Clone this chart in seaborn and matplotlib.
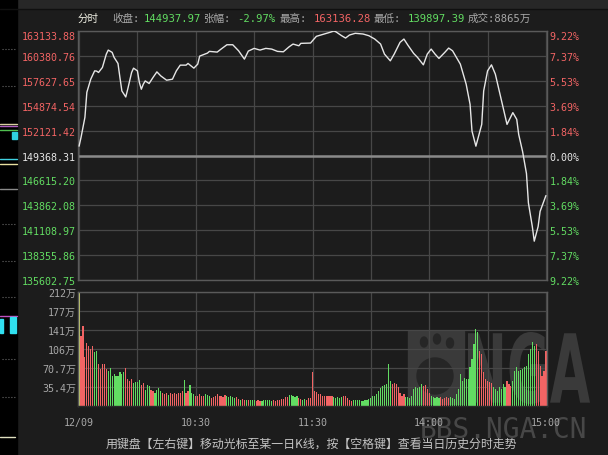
import matplotlib
matplotlib.use("Agg")
import matplotlib.pyplot as plt
import seaborn as sns
import pandas as pd
from matplotlib.lines import Line2D
from matplotlib.patches import Rectangle, Ellipse, PathPatch
from matplotlib.textpath import TextPath
from matplotlib.font_manager import FontProperties
from matplotlib.transforms import Affine2D

# minute index since 09:30 (lunch break removed, 240 = 15:00) and index value
price_min = [0, 1, 3, 4, 6, 8, 9, 10, 12, 14,
             15, 17, 18, 20, 21, 22, 24, 25, 27, 28,
             30, 31, 32, 33, 34, 36, 38, 40, 42, 45,
             48, 50, 52, 55, 56, 59, 61, 62, 66, 67,
             71, 73, 76, 79, 82, 85, 87, 90, 93, 96,
             99, 102, 105, 108, 110, 113, 114, 119, 120, 122,
             126, 129, 131, 132, 135, 137, 139, 142, 146, 149,
             152, 155, 157, 160, 162, 165, 167, 169, 172, 174,
             177, 179, 181, 183, 185, 188, 190, 192, 196, 199,
             201, 202, 204, 207, 208, 210, 212, 214, 216, 218,
             220, 223, 225, 226, 228, 230, 231, 233, 234, 236,
             237, 240]
price = [150400, 151366, 153586, 156362, 157805, 158726, 158700, 158549, 159104, 160580,
         161024, 160769, 160214, 159548, 157994, 156506, 155840, 156695, 158549, 159026,
         158726, 157438, 156695, 157250, 157616, 157328, 157994, 158615, 158171, 157694,
         157805, 158726, 159359, 159359, 159548, 159026, 159470, 160358, 160691, 160880,
         160802, 161135, 161613, 161613, 160947, 160025, 160913, 161213, 161024, 161213,
         161135, 160880, 160835, 161390, 161690, 161501, 161768, 161801, 162056, 162545,
         162800, 162989, 163136, 163050, 162612, 162356, 162689, 162878, 162800, 162612,
         162245, 161690, 160580, 159836, 160580, 161879, 162245, 161579, 160658, 160214,
         159392, 160580, 161135, 160580, 160103, 160769, 161246, 160946, 159470, 157250,
         155030, 152066, 150400, 152809, 156506, 158726, 159392, 158360, 156506, 154663,
         152809, 154108, 153364, 151699, 149812, 147370, 144117, 141520, 139897, 141520,
         143185, 144938]
prev_close = 149368.31

# volume per minute (万), one bar per minute 0..240
vol = [212, 131, 148, 91, 117, 112, 106, 112, 100, 103,
       78, 69, 78, 78, 69, 65, 70, 56, 60, 56,
       56, 63, 60, 63, 71, 50, 47, 50, 43, 44,
       45, 48, 40, 43, 30, 39, 38, 30, 27, 25,
       30, 33, 28, 25, 22, 25, 21, 25, 22, 25,
       23, 25, 25, 28, 48, 25, 28, 39, 25, 22,
       19, 19, 22, 19, 19, 23, 21, 18, 14, 16,
       19, 22, 19, 19, 16, 20, 19, 17, 19, 16,
       15, 17, 13, 12, 13, 12, 12, 11, 12, 12,
       11, 10, 11, 10, 10, 12, 12, 11, 11, 10,
       11, 10, 11, 12, 13, 13, 16, 16, 21, 21,
       19, 16, 19, 15, 13, 12, 13, 12, 14, 15,
       63, 28, 26, 23, 22, 19, 19, 18, 18, 19,
       18, 16, 15, 16, 15, 16, 18, 19, 14, 12,
       10, 11, 12, 12, 11, 10, 10, 11, 11, 13,
       15, 18, 19, 23, 28, 33, 38, 40, 41, 78,
       47, 41, 42, 41, 35, 25, 19, 23, 16, 16,
       15, 19, 32, 36, 33, 35, 41, 38, 40, 32,
       25, 19, 16, 15, 16, 15, 16, 13, 14, 16,
       14, 16, 14, 13, 23, 32, 60, 47, 53, 50,
       50, 72, 88, 115, 143, 137, 103, 97, 63, 50,
       47, 44, 42, 35, 31, 28, 35, 32, 41, 35,
       47, 41, 38, 47, 66, 72, 66, 67, 69, 72,
       75, 97, 106, 120, 112, 115, 103, 75, 56, 66,
       103]
# u = price up that minute, d = down, n = opening auction
vol_dir = ("n" + "uuuuuuu" + "dd" + "uuuuu" + "ddddddddd" + "uuuu" + "dddd" + "uu"
           + "ddd" + "uu" + "dddd" + "uuu" + "d" + "uuuuuuu" + "d" + "uu" + "ddd"
           + "uuuuu" + "ddd" + "uuuuuuuu" + "ddddd" + "uu" + "d" + "uu" + "d" + "u"
           + "ddd" + "uuu" + "dddddd" + "uuuuuuuu" + "ddddd" + "uu" + "dd"
           + "uuuuuuuuuuuuuu" + "ddddd" + "uuuuu" + "dddddddddddddddddddd"
           + "uuuuuuu" + "ddddddddd" + "uuuu" + "ddddd" + "uuuuu"
           + "ddddddddddddddd" + "uuuuuuu" + "ddddddd" + "uuu" + "dddddddddddd"
           + "uuuuuu")

price_ticks = [135602.75, 138355.86, 141108.97, 143862.08, 146615.20, 149368.31,
               152121.42, 154874.54, 157627.65, 160380.76, 163133.88]
pct_labels = ["9.22%", "7.37%", "5.53%", "3.69%", "1.84%", "0.00%",
              "1.84%", "3.69%", "5.53%", "7.37%", "9.22%"]
vol_ticks = [35.37, 70.73, 106.1, 141.47, 176.83, 212.2]
vol_labels = ["35.4万", "70.7万", "106万", "141万", "177万", "212万"]
time_pos = [0, 60, 120, 180, 240]
time_labels = ["12/09", "10:30", "11:30", "14:00", "15:00"]

header_texts = ["分时", "收盘:", "144937.97", "张幅:", "-2.97%", "最高:",
                "163136.28", "最低:", "139897.39", "成交:8865万"]
footer_text = "用键盘【左右键】移动光标至某一日K线，按【空格键】查看当日历史分时走势"

BG = "#1c1c1c"
RED = "#f26464"
GREEN = "#62dc62"
WHITE = "#e6e6e6"
GRAY = "#a8a8a8"
MONO = ["DejaVu Sans Mono", "Noto Sans CJK SC"]
CJK = ["Noto Sans CJK SC", "DejaVu Sans"]
FS = 7.2

sns.set_theme(style="dark", rc={
    "figure.facecolor": BG, "axes.facecolor": "none", "axes.edgecolor": "#5a5a5a",
    "axes.linewidth": 1.0, "axes.grid": True, "grid.color": "#474747",
    "grid.linewidth": 0.9, "grid.linestyle": "-", "xtick.color": GRAY,
    "ytick.color": GRAY, "text.color": GRAY,
    "xtick.labelsize": FS, "ytick.labelsize": FS,
})
plt.rcParams["font.family"] = MONO
plt.rcParams["font.size"] = FS

FW, FH = 608, 456
fig = plt.figure(figsize=(FW / 100, FH / 100), dpi=100)


def fx(px):
    return px / FW


def fy(py):
    return 1 - py / FH


def box(x0, y0, x1, y1):
    return [fx(x0), fy(y1), (x1 - x0) / FW, (y1 - y0) / FH]


def hline(y, x0, x1, color, lw=1.0, ls="-"):
    fig.add_artist(Line2D([fx(x0), fx(x1)], [fy(y), fy(y)], color=color, lw=lw,
                          ls=ls, transform=fig.transFigure, zorder=-1))


# window chrome: top band and black strip on the left
fig.add_artist(Rectangle((0, fy(9)), 1, 9 / FH, transform=fig.transFigure,
                         color="#272727", zorder=-3))
hline(9.5, 0, FW, "#101010")
fig.add_artist(Rectangle((0, 0), fx(17), 1, transform=fig.transFigure,
                         color="#000000", zorder=-2))
for yy in [50, 87, 225, 262, 298, 360, 398]:
    hline(yy, 2, 15, "#6a6a6a", 0.8, ":")
hline(125, 0, 17, "#d8d0a0")
hline(127, 0, 17, "#b060c0")
hline(131, 0, 17, "#50c050")
hline(160, 0, 17, "#40d0e0")
hline(165, 0, 17, "#e8e0a0")
hline(190, 0, 17, "#8a8a8a")
hline(317, 0, 17, "#c050c0")
hline(438, 0, 15, "#e0e0c0")
fig.add_artist(Rectangle((fx(12), fy(140)), 5 / FW, 7 / FH, transform=fig.transFigure,
                         color="#30d0e0", zorder=-1))
fig.add_artist(Rectangle((0, fy(334)), 3 / FW, 14 / FH, transform=fig.transFigure,
                         color="#30e0f0", zorder=-1))
fig.add_artist(Rectangle((fx(10), fy(334)), 6 / FW, 16 / FH, transform=fig.transFigure,
                         color="#30e0f0", zorder=-1))

# NGA watermark (drawn beneath the transparent axes)
WM = "#3a3a3a"
fig.add_artist(Rectangle((fx(408), fy(405)), 56 / FW, 73 / FH, transform=fig.transFigure,
                         color=WM, zorder=-1))
for cx, cy, w, h in [(424, 343, 7, 10), (437, 340, 7, 10), (450, 344, 7, 10),
                     (435, 377, 36, 36)]:
    fig.add_artist(Ellipse((fx(cx), fy(cy)), w / FW, h / FH, transform=fig.transFigure,
                           color="#262626", zorder=-1))
tp = TextPath((0, 0), "NGA", size=1, prop=FontProperties(family="DejaVu Sans", weight="bold"))
ext = tp.get_extents()
tr = (Affine2D().translate(-ext.x0, -ext.y0)
      .scale(122 / ext.width, 72 / ext.height).translate(468, FH - 405))
fig.add_artist(PathPatch(tp, transform=tr, color=WM, lw=0, zorder=-1))
fig.text(fx(503), fy(430), "BBS.NGA.CN", ha="center", va="center", fontsize=20,
         family=MONO, color="#474747", zorder=-1)

# price panel
ax_p = fig.add_axes(box(78.3, 32, 546.7, 281))
sns.lineplot(x=price_min, y=price, ax=ax_p, color=WHITE, linewidth=1.0, zorder=3)
ax_p.axhline(prev_close, color="#8a8a8a", lw=1.8, zorder=2)
ax_p.set_xlim(-0.4, 240.4)
ax_p.set_ylim(price_ticks[0], price_ticks[-1])
ax_p.set_xticks(range(0, 241, 30))
ax_p.set_xticklabels([])
ax_p.set_yticks(price_ticks)
ax_p.set_yticklabels([f"{t:.2f}" for t in price_ticks])
ax_p.tick_params(length=0, pad=1.5)
ax_p.set_xlabel("")
ax_p.set_ylabel("")


def side_color(t):
    if t > prev_close + 1:
        return RED
    if t < prev_close - 1:
        return GREEN
    return WHITE


ax_r = ax_p.twinx()
ax_r.set_facecolor("none")
ax_r.grid(False)
ax_r.set_ylim(ax_p.get_ylim())
ax_r.set_yticks(price_ticks)
ax_r.set_yticklabels(pct_labels)
ax_r.tick_params(length=0, pad=2)
for axis in (ax_p, ax_r):
    labels = axis.get_yticklabels()
    for t, lab in zip(price_ticks, labels):
        lab.set_color(side_color(t))
    labels[-1].set_verticalalignment("top")
for sp in ax_r.spines.values():
    sp.set_visible(False)

# volume panel
ax_v = fig.add_axes(box(78.3, 293, 546.7, 407))
vdf = pd.DataFrame({"minute": range(len(vol)), "vol": vol, "dir": list(vol_dir)})
bar_colors = vdf["dir"].map({"u": RED, "d": GREEN, "n": "#c8d070"})
ax_v.bar(vdf["minute"], vdf["vol"], width=0.6, color=bar_colors, linewidth=0,
         antialiased=False)
ax_v.set_xlim(-0.4, 240.4)
ax_v.set_ylim(0, vol_ticks[-1])
ax_v.set_yticks(vol_ticks)
ax_v.set_yticklabels(vol_labels)
xt = list(range(0, 241, 30))
tl = dict(zip(time_pos, time_labels))
ax_v.set_xticks(xt)
ax_v.set_xticklabels([tl.get(t, "") for t in xt])
ax_v.tick_params(axis="y", length=0, pad=1.5)
ax_v.tick_params(axis="x", length=0, pad=8)
ax_v.spines["bottom"].set_color("#2a2a2a")
ax_v.set_xlabel("")
ax_v.set_ylabel("")

# header and footer
header_x = [78, 112, 144, 203, 237, 280, 314, 374, 408, 468]
header_c = ["#f2f2e6", GRAY, GREEN, GRAY, GREEN, GRAY, RED, GRAY, GREEN, GRAY]
for x, s, c in zip(header_x, header_texts, header_c):
    fig.text(fx(x), fy(19), s, ha="left", va="center", color=c, fontsize=7.6, family=MONO)
fig.text(fx(311), fy(444), footer_text, ha="center", va="center", color="#c4c4c4",
         fontsize=8.6, family=CJK)

fig.savefig("out.png", dpi=100, facecolor=BG)
